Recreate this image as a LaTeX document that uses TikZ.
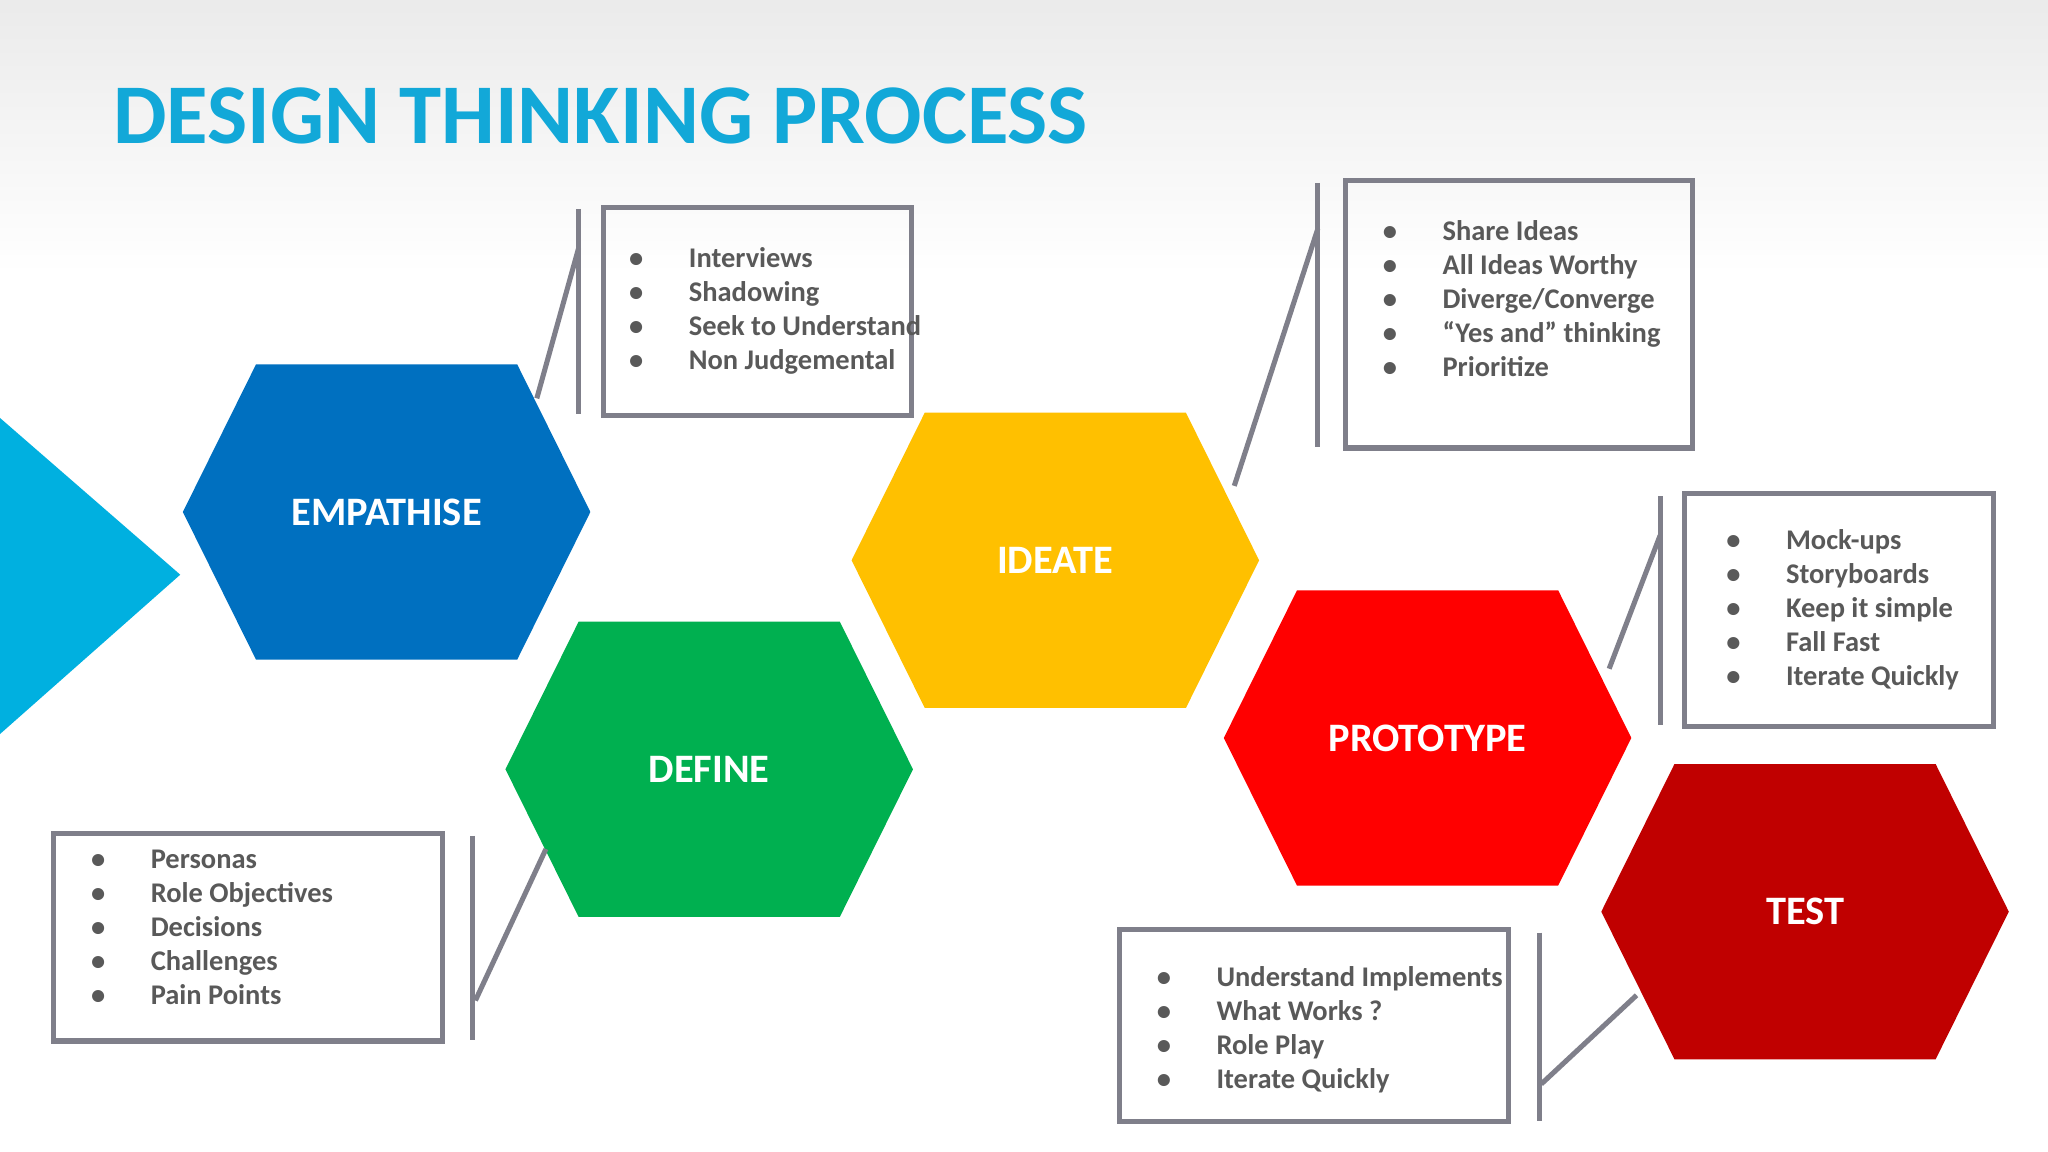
\documentclass[tikz,border=0pt]{standalone}
\usepackage{fontspec}
\setmainfont{Carlito}
\definecolor{ttl}{HTML}{12A8D8}
\definecolor{tri}{HTML}{00B0E0}
\definecolor{cemp}{HTML}{0070C0}
\definecolor{cdef}{HTML}{00B050}
\definecolor{cide}{HTML}{FFC000}
\definecolor{cpro}{HTML}{FF0000}
\definecolor{ctst}{HTML}{C00000}
\definecolor{lgray}{HTML}{7F7F8A}
\definecolor{tgray}{HTML}{595959}
\tikzset{
 hexlabel/.style={text=white,font=\fontsize{8.8}{10}\selectfont\bfseries},
 infobox/.style={draw=lgray,line width=1.1pt},
 conn/.style={draw=lgray,line width=1.1pt},
 bul/.style={anchor=north west,inner sep=0pt,text=tgray,font=\fontsize{6.2}{7.4}\selectfont\bfseries,align=left}
}
\newcommand{\hexa}[5]{% name, cx, cy, color, label
 \fill[#4] (#2-156,#3) -- (#2-100,#3-113) -- (#2+100,#3-113) -- (#2+156,#3) -- (#2+100,#3+113) -- (#2-100,#3+113) -- cycle;
 \node[hexlabel] (#1) at (#2,#3) {#5};}
\newcommand{\bl}[1]{\textbullet\hspace{1.6em}#1}
\begin{document}
\begin{tikzpicture}[x=0.01cm,y=-0.01cm]
\shade[top color=black!8,bottom color=white,middle color=white] (0,0) rectangle (1568,420);
\fill[white] (0,420) rectangle (1568,882);
\useasboundingbox (0,0) rectangle (1568,882);
\node[anchor=base west,inner sep=0pt,text=ttl,font=\fontsize{18.5}{20}\selectfont\bfseries] (title) at (86,110) {DESIGN THINKING PROCESS};
\fill[tri] (0,320) -- (138,440) -- (0,562) -- cycle;
\hexa{emp}{296}{392}{cemp}{EMPATHISE}
\hexa{def}{543}{589}{cdef}{DEFINE}
\hexa{ide}{808}{429}{cide}{IDEATE}
\hexa{pro}{1093}{565}{cpro}{PROTOTYPE}
\hexa{tst}{1382}{698}{ctst}{TEST}
% empathise
\draw[infobox] (462,159) rectangle (698,318);
\draw[conn] (443,160) -- (443,317);
\coordinate (e1) at (411,305); \coordinate (e2) at (443,190);
\draw[conn] (e1) -- (e2);
\node[bul] (eb) at (481,189) {\bl{Interviews}\\\bl{Shadowing}\\\bl{Seek to Understand}\\\bl{Non Judgemental}};
% ideate
\draw[infobox] (1030,138) rectangle (1296,343);
\draw[conn] (1009,140) -- (1009,342);
\coordinate (i1) at (945,372); \coordinate (i2) at (1009,175);
\draw[conn] (i1) -- (i2);
\node[bul] (ib) at (1058,168) {\bl{Share Ideas}\\\bl{All Ideas Worthy}\\\bl{Diverge/Converge}\\\bl{“Yes and” thinking}\\\bl{Prioritize}};
% prototype
\draw[infobox] (1290,378) rectangle (1526,556);
\draw[conn] (1271,380) -- (1271,555);
\coordinate (p1) at (1232,512); \coordinate (p2) at (1271,410);
\draw[conn] (p1) -- (p2);
\node[bul] (pb) at (1321,405) {\bl{Mock-ups}\\\bl{Storyboards}\\\bl{Keep it simple}\\\bl{Fall Fast}\\\bl{Iterate Quickly}};
% define
\draw[infobox] (41,638) rectangle (339,797);
\draw[conn] (362,640) -- (362,796);
\coordinate (d1) at (364,766); \coordinate (d2) at (418,650);
\draw[conn] (d1) -- (d2);
\node[bul] (db) at (69,650) {\bl{Personas}\\\bl{Role Objectives}\\\bl{Decisions}\\\bl{Challenges}\\\bl{Pain Points}};
% test
\draw[infobox] (857,712) rectangle (1155,859);
\draw[conn] (1179,714) -- (1179,858);
\coordinate (t1) at (1180,830); \coordinate (t2) at (1253,762);
\draw[conn] (t1) -- (t2);
\node[bul] (tb) at (885,739) {\bl{Understand Implements}\\\bl{What Works ?}\\\bl{Role Play}\\\bl{Iterate Quickly}};
\end{tikzpicture}
\end{document}
